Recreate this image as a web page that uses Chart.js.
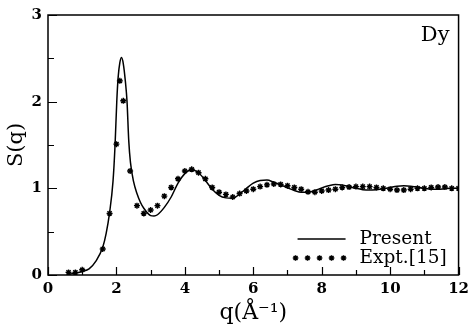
<!DOCTYPE html>
<html>
<head>
<meta charset="utf-8">
<script src="https://cdn.jsdelivr.net/npm/chart.js@4/dist/chart.umd.min.js"></script>
<style>
html,body{margin:0;padding:0;background:#fff;}
#wrap{width:474px;height:331px;position:relative;}
</style>
</head>
<body>
<div id="wrap"><canvas id="c" width="474" height="331"></canvas></div>
<script>
// Experimental data (stars)
const qExpt = [0.6,0.8,1.0,1.6,1.8,2.0,2.1,2.2,2.4,2.6,2.8,3.0,3.2,3.4,3.6,3.8,4.0,4.2,4.4,4.6,4.8,5.0,5.2,5.4,5.6,5.8,6.0,6.2,6.4,6.6,6.8,7.0,7.2,7.4,7.6,7.8,8.0,8.2,8.4,8.6,8.8,9.0,9.2,9.4,9.6,9.8,10.0,10.2,10.4,10.6,10.8,11.0,11.2,11.4,11.6,11.8,12.0];
const sExpt = [0.03,0.03,0.06,0.30,0.71,1.51,2.24,2.01,1.20,0.80,0.71,0.75,0.80,0.91,1.01,1.11,1.20,1.22,1.18,1.11,1.01,0.955,0.93,0.90,0.94,0.97,0.99,1.02,1.04,1.05,1.045,1.03,1.01,0.99,0.96,0.955,0.97,0.98,0.99,1.01,1.015,1.02,1.02,1.02,1.01,1.0,0.99,0.98,0.98,0.99,1.0,1.0,1.01,1.015,1.015,1.0,1.0];
// Present calculation (solid line)
const qCalc = [0.6,0.8,1.0,1.2,1.4,1.6,1.7,1.8,1.9,1.96,2.01,2.05,2.1,2.15,2.2,2.26,2.31,2.36,2.41,2.5,2.6,2.7,2.8,3.0,3.1,3.2,3.4,3.6,3.8,4.0,4.2,4.4,4.6,4.8,5.0,5.2,5.4,5.6,5.8,6.0,6.2,6.4,6.6,6.8,7.0,7.2,7.4,7.6,7.8,8.0,8.2,8.4,8.6,8.8,9.0,9.2,9.4,9.6,9.8,10.0,10.2,10.4,10.6,10.8,11.0,11.2,11.4,11.6,11.8,12.0];
const sCalc = [0.01,0.02,0.04,0.07,0.16,0.32,0.48,0.72,1.08,1.5,2.0,2.28,2.45,2.51,2.44,2.24,2.0,1.55,1.3,1.08,0.94,0.84,0.77,0.685,0.68,0.695,0.78,0.90,1.06,1.17,1.215,1.18,1.09,0.99,0.92,0.89,0.885,0.935,1.0,1.06,1.09,1.095,1.07,1.04,1.005,0.975,0.955,0.955,0.975,1.005,1.03,1.045,1.04,1.02,1.0,0.985,0.98,0.985,0.995,1.01,1.025,1.03,1.025,1.015,1.0,0.99,0.99,0.995,1.0,1.0];
const xTickLabels = ['0','2','4','6','8','10','12'];
const yTickLabels = ['0','1','2','3'];
const seriesNames = ['Present','Expt.[15]'];
const elementName = 'Dy';

const SERIF = "'DejaVu Serif', 'Liberation Serif', serif";

const decor = {
  id: 'decor',
  afterDraw(chart) {
    const {ctx, chartArea: a, scales: {x, y}} = chart;
    ctx.save();
    ctx.strokeStyle = '#000';
    ctx.fillStyle = '#000';
    ctx.lineWidth = 1.5;
    ctx.strokeRect(a.left, a.top, a.right - a.left, a.bottom - a.top);
    ctx.lineWidth = 1.2;
    ctx.beginPath();
    x.ticks.forEach(t => {
      const px = Math.round(x.getPixelForValue(t.value)) + 0.5;
      const len = (Math.round(t.value) % 2 === 0) ? 8 : 5;
      ctx.moveTo(px, a.bottom); ctx.lineTo(px, a.bottom - len);
    });
    y.ticks.forEach(t => {
      const py = Math.round(y.getPixelForValue(t.value)) + 0.5;
      const len = Number.isInteger(t.value) ? 9 : 6;
      ctx.moveTo(a.left, py); ctx.lineTo(a.left + len, py);
    });
    ctx.stroke();

    // element label
    ctx.font = "21px " + SERIF;
    ctx.textAlign = 'right';
    ctx.textBaseline = 'middle';
    ctx.fillText(elementName, a.right - 9, a.top + 21);

    // legend
    ctx.font = "18.5px " + SERIF;
    ctx.textAlign = 'left';
    const lx = a.right - 163, ly1 = a.top + 224, ly2 = a.top + 243;
    ctx.lineWidth = 1.4;
    ctx.beginPath();
    ctx.moveTo(lx + 2, ly1); ctx.lineTo(lx + 50, ly1);
    ctx.stroke();
    ctx.fillText(seriesNames[0], lx + 64, ly1);
    for (let i = 0; i < 5; i++) {
      Chart.helpers.drawPoint(ctx, {pointStyle: 'star', radius: 2.8, borderWidth: 1.3, rotation: 0}, lx + i * 12, ly2);
    }
    ctx.fillText(seriesNames[1], lx + 64, ly2);
    ctx.restore();
  }
};

new Chart(document.getElementById('c'), {
  type: 'scatter',
  data: {
    datasets: [
      {
        label: seriesNames[0],
        data: qCalc.map((q, i) => ({x: q, y: sCalc[i]})),
        showLine: true,
        borderColor: '#000',
        borderWidth: 1.5,
        pointRadius: 0,
        cubicInterpolationMode: 'monotone',
        fill: false
      },
      {
        label: seriesNames[1],
        data: qExpt.map((q, i) => ({x: q, y: sExpt[i]})),
        showLine: false,
        pointStyle: 'star',
        pointRadius: 3,
        borderColor: '#000',
        backgroundColor: '#000',
        pointBorderWidth: 1.4
      }
    ]
  },
  options: {
    responsive: false,
    animation: false,
    events: [],
    layout: {padding: {top: 10, right: 13, left: 0, bottom: 0}},
    plugins: {legend: {display: false}, tooltip: {enabled: false}},
    scales: {
      x: {
        type: 'linear', min: 0, max: 12,
        afterFit(s) { s.height = 56; },
        grid: {display: false, drawTicks: false},
        border: {display: false},
        ticks: {
          stepSize: 1, autoSkip: false, maxRotation: 0, padding: 5, color: '#000',
          font: {family: SERIF, size: 15, weight: 'bold'},
          callback: v => xTickLabels.includes(String(v)) ? String(v) : ''
        },
        title: {display: true, text: 'q(Å⁻¹)', color: '#000', font: {family: SERIF, size: 22}, padding: {top: 0, bottom: 5}}
      },
      y: {
        type: 'linear', min: 0, max: 3,
        afterFit(s) { s.width = 48; },
        grid: {display: false, drawTicks: false},
        border: {display: false},
        ticks: {
          stepSize: 0.5, autoSkip: false, padding: 6, color: '#000',
          font: {family: SERIF, size: 15, weight: 'bold'},
          callback: v => yTickLabels.includes(String(v)) ? String(v) : ''
        },
        title: {display: true, text: 'S(q)', color: '#000', font: {family: SERIF, size: 21}, padding: {top: 4, bottom: 0}}
      }
    }
  },
  plugins: [decor]
});
</script>
</body>
</html>
